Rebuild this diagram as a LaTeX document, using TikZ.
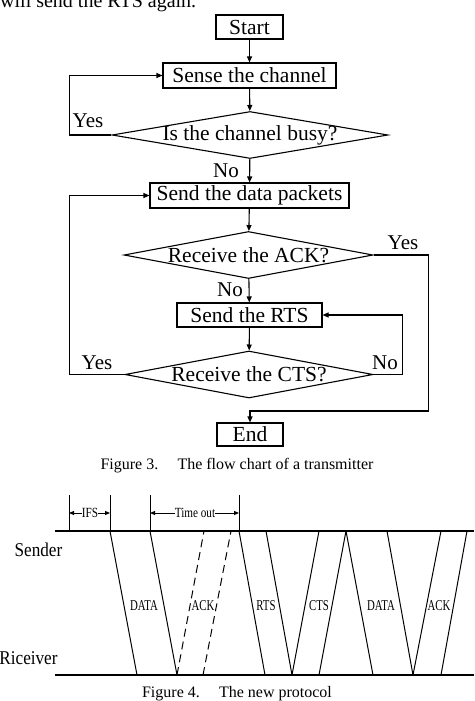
\documentclass[tikz,border=0pt]{standalone}
\usepackage{fontspec}
\setmainfont{Liberation Serif}
\usetikzlibrary{shapes.geometric,arrows.meta}
\begin{document}
\begin{tikzpicture}[x=1pt,y=-1pt,
  box/.style={draw, line width=1.1pt, inner sep=0pt, font=\fontsize{21.5}{24}\selectfont},
  dec/.style={draw, diamond, line width=1.1pt, inner sep=0pt,
    label={[font=\fontsize{21.5}{24}\selectfont, inner sep=0pt]center:#1}},
  flow/.style={line width=1.1pt, -{Triangle[length=6pt,width=5pt]}},
  lbl/.style={font=\fontsize{21}{23}\selectfont, inner sep=0pt},
  figcap/.style={font=\fontsize{16}{18}\selectfont, inner sep=0pt, anchor=base},
  side/.style={font=\fontsize{19.5}{21}\selectfont, inner sep=0pt},
  smalltxt/.style={font=\fontsize{14}{16}\selectfont, inner sep=0pt},
  msgtxt/.style={font=\fontsize{15}{17}\selectfont, inner sep=0pt},
  axisline/.style={line width=1.5pt},
  tickline/.style={line width=1pt},
  msg/.style={line width=1pt},
  lostmsg/.style={line width=1pt, dash pattern=on 8pt off 5pt},
  spanarrow/.style={line width=0.9pt, -{Triangle[length=5pt,width=4pt]}}
]
\useasboundingbox (0,0) rectangle (474,701);
\clip (0,0) rectangle (474,701);

% cut-off text line at the top
\node[anchor=base west, font=\fontsize{20}{22}\selectfont, inner sep=0pt] (intro) at (0,8) {will send the RTS again.};

% ---------- Figure 3: flow chart ----------
\node[box, minimum width=67pt, minimum height=24pt] (start) at (249.5,27) {Start};
\node[box, minimum width=173pt, minimum height=25pt] (sense) at (249.5,75.5) {Sense the channel};
\node[dec={Is the channel busy?}, minimum width=276pt, minimum height=47pt] (busy) at (250,135) {};
\node[box, minimum width=199pt, minimum height=25pt] (data) at (249.5,195.5) {Send the data packets};
\node[dec={Receive the ACK?}, minimum width=249pt, minimum height=47pt] (ack) at (248.5,255) {};
\node[box, minimum width=145pt, minimum height=24pt] (rts) at (249.5,315) {Send the RTS};
\node[dec={Receive the CTS?}, minimum width=248pt, minimum height=47pt] (cts) at (249,374.5) {};
\node[box, minimum width=66pt, minimum height=23pt] (end) at (250,434.5) {End};

\draw[flow] (start) -- (sense);
\draw[flow] (sense) -- (busy);
\draw[flow] (busy.west) -- ++(-42,0) |- (sense.west);
\draw[flow] (busy) -- (data);
\draw[flow] (data) -- (ack);
\draw[flow] (ack) -- (rts);
\draw[flow] (rts) -- (cts);
\draw[flow] (cts.west) -- ++(-55,0) |- (data.west);
\draw[flow] (cts.east) -- ++(29,0) |- (rts.east);
\draw[flow] (ack.east) -- ++(55,0) -- ++(0,156) -| (end.north);

\node[lbl] (yes1) at (88,121) {Yes};
\node[lbl] (no1) at (226,171) {No};
\node[lbl] (yes2) at (403,243) {Yes};
\node[lbl] (no2) at (230,290) {No};
\node[lbl] (yes3) at (97,363) {Yes};
\node[lbl] (no3) at (385,363) {No};

\node[figcap] (cap3) at (237,469) {Figure 3.\hspace{1.2em}The flow chart of a transmitter};

% ---------- Figure 4: timing ----------
\draw[axisline] (55,531) -- (474,531);
\draw[axisline] (55,675) -- (474,675);
\node[side] (sender) at (38.5,550) {\scalebox{0.88}[1]{Sender}};
\node[side] (receiver) at (28.5,658) {\scalebox{0.88}[1]{Riceiver}};

\foreach \x in {69,110,150,239} \draw[tickline] (\x,495) -- (\x,531);
\node[smalltxt] (ifs) at (90,513) {\scalebox{0.8}[1]{IFS}};
\draw[spanarrow] (ifs.west) -- (69,513);
\draw[spanarrow] (ifs.east) -- (110,513);
\node[smalltxt] (tout) at (195,513) {\scalebox{0.8}[1]{Time out}};
\draw[spanarrow] (tout.west) -- (150,513);
\draw[spanarrow] (tout.east) -- (239,513);

% DATA (first)
\draw[msg] (110,531) -- (137,675);
\draw[msg] (150,531) -- (177,675);
% ACK (lost, dashed)
\draw[lostmsg] (177,675) -- (204,531);
\draw[lostmsg] (203,675) -- (231,531);
% RTS
\draw[msg] (239,531) -- (265,675);
\draw[msg] (266,531) -- (292,675);
% CTS
\draw[msg] (292,675) -- (319,531);
\draw[msg] (319,675) -- (346,531);
% DATA
\draw[msg] (346,531) -- (373,675);
\draw[msg] (387,531) -- (413,675);
% ACK
\draw[msg] (413,675) -- (441,531);
\draw[msg] (441,675) -- (467,531);

\node[msgtxt] (l1) at (144,606) {\scalebox{0.72}[1]{DATA}};
\node[msgtxt] (l2) at (203,606) {\scalebox{0.72}[1]{ACK}};
\node[msgtxt] (l3) at (266,606) {\scalebox{0.72}[1]{RTS}};
\node[msgtxt] (l4) at (319,606) {\scalebox{0.72}[1]{CTS}};
\node[msgtxt] (l5) at (381,606) {\scalebox{0.72}[1]{DATA}};
\node[msgtxt] (l6) at (439,606) {\scalebox{0.72}[1]{ACK}};

\node[figcap] (cap4) at (237,697) {Figure 4.\hspace{1.2em}The new protocol};
\end{tikzpicture}
\end{document}
